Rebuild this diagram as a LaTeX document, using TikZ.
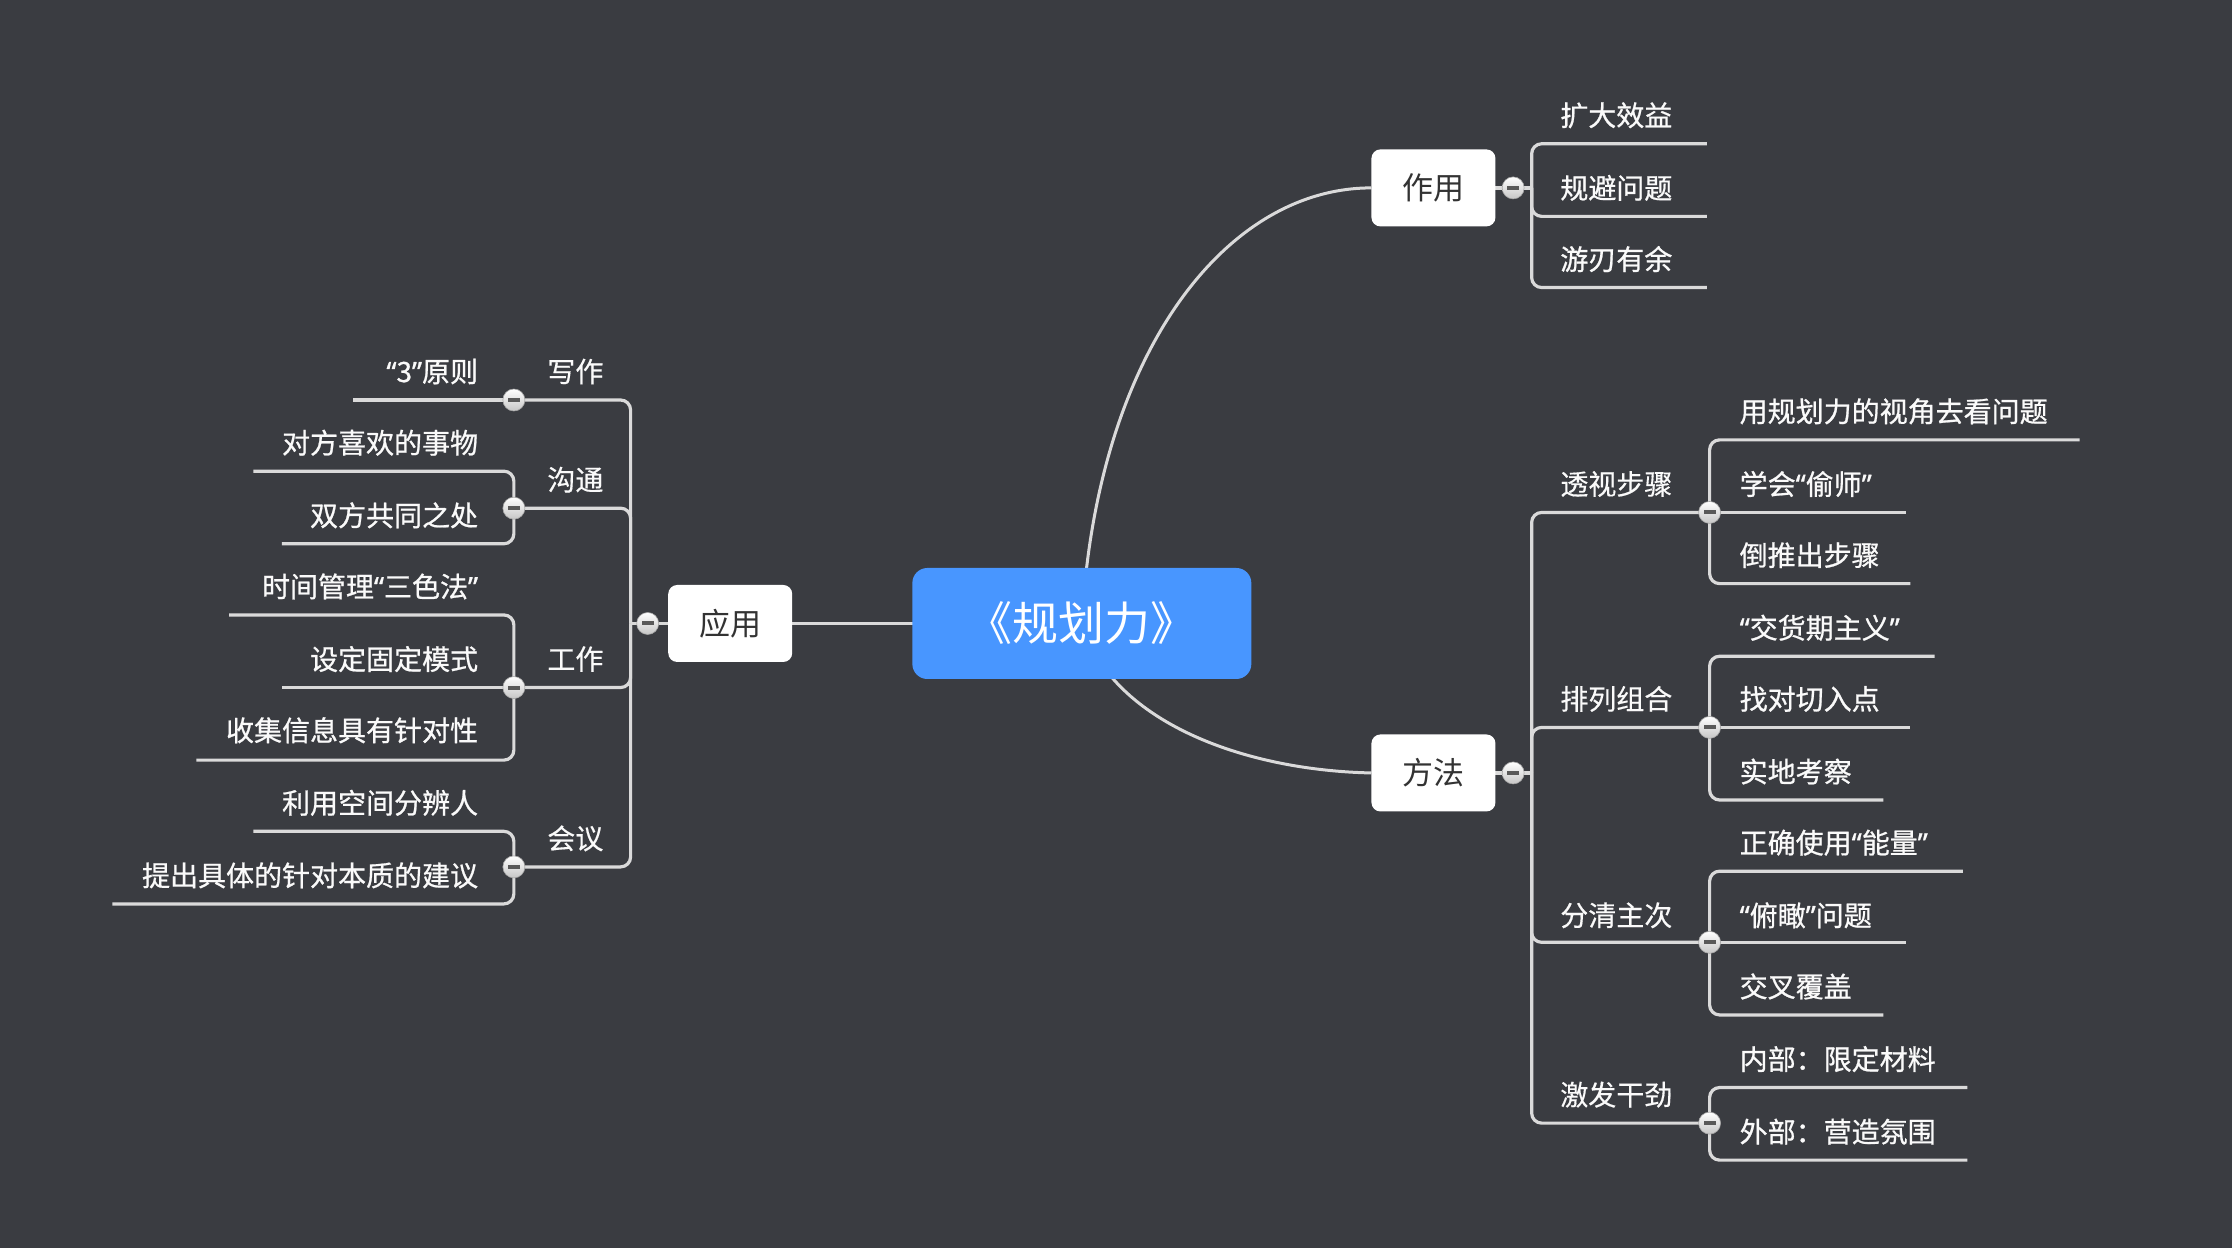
\documentclass[tikz,border=0pt]{standalone}
\usepackage{fontspec}
\newfontfamily\cjk{Noto Sans CJK SC}
\newfontfamily\cjkb[FakeBold=0.8]{Noto Sans CJK SC}
\newfontfamily\cjkm[FakeBold=0.4]{Noto Sans CJK SC}
\newfontfamily\latq[FakeBold=0.8]{Noto Sans}
\newcommand\myqo{{\latq “}}
\newcommand\myqc{{\latq ”}}
\definecolor{bgc}{RGB}{58,60,65}
\definecolor{linec}{RGB}{218,218,218}
\definecolor{rootc}{RGB}{72,150,255}
\definecolor{boxtext}{RGB}{51,51,51}
\definecolor{leafc}{RGB}{250,250,250}
\pgfdeclarelayer{bgl}
\pgfdeclarelayer{lnl}
\pgfsetlayers{bgl,lnl,main}
\begin{document}
\begin{tikzpicture}[x=1.4235pt,y=-1.4235pt,
 link/.style={draw=linec, line width=3.2pt, rounded corners=10pt},
 curve/.style={draw=linec, line width=3pt},
 rootbox/.style={fill=rootc, rounded corners=15pt, minimum width=339pt, minimum height=111pt, text=white, font=\cjk\fontsize{46}{50}\selectfont},
 topic/.style={fill=white, rounded corners=9pt, minimum width=124pt, minimum height=77pt, text=boxtext, font=\cjk\fontsize{31}{34}\selectfont},
 sub/.style={text=leafc, inner sep=0pt, font=\cjkb\fontsize{28}{30}\selectfont},
 mid/.style={text=leafc, inner sep=0pt, font=\cjkm\fontsize{28}{30}\selectfont},
 toggle/.style={circle, minimum size=22pt, inner sep=0pt, top color=white, bottom color=gray!45, draw=gray!70, line width=0.6pt,
   path picture={\fill[black!65] ([xshift=-6pt,yshift=-2pt]path picture bounding box.center) rectangle ([xshift=6pt,yshift=2pt]path picture bounding box.center);}}
]
\begin{pgfonlayer}{bgl}
\fill[bgc] (0,0) rectangle (1568,877);
\end{pgfonlayer}
\useasboundingbox (0,0) rectangle (1568,877);

% ---------- main nodes ----------
\node[rootbox] (root) at (760,438) {《规划力》};
\node[topic] (zy) at (1007,132) {作用};
\node[topic] (ff) at (1007,543) {方法};
\node[topic] (yy) at (513,438) {应用};

\coordinate (jzy) at (1076,132);
\coordinate (jff) at (1076,543);
\coordinate (jyy) at (443,438);

% ---------- 作用 leaves ----------
\node[sub, anchor=west] (a1) at (1096,81) {扩大效益};
\node[sub, anchor=west] (a2) at (1096,132) {规避问题};
\node[sub, anchor=west] (a3) at (1096,182) {游刃有余};
\coordinate (ea1) at (1199,101);
\coordinate (ea2) at (1199,152);
\coordinate (ea3) at (1199,202);

% ---------- 方法 level 2 ----------
\node[mid, anchor=west] (b1) at (1096,340) {透视步骤};
\node[mid, anchor=west] (b2) at (1096,491) {排列组合};
\node[mid, anchor=west] (b3) at (1096,643) {分清主次};
\node[mid, anchor=west] (b4) at (1096,769) {激发干劲};

% leaves
\node[sub, anchor=west] (b11) at (1222,289) {用规划力的视角去看问题};
\node[sub, anchor=west] (b12) at (1222,340) {学会\myqo 偷师\myqc};
\node[sub, anchor=west] (b13) at (1222,390) {倒推出步骤};
\coordinate (eb11) at (1461,309);
\coordinate (eb12) at (1339,360);
\coordinate (eb13) at (1342,410);

\node[sub, anchor=west] (b21) at (1222,441) {\myqo 交货期主义\myqc};
\node[sub, anchor=west] (b22) at (1222,491) {找对切入点};
\node[sub, anchor=west] (b23) at (1222,542) {实地考察};
\coordinate (eb21) at (1359,461);
\coordinate (eb22) at (1342,511);
\coordinate (eb23) at (1323,562);

\node[sub, anchor=west] (b31) at (1222,592) {正确使用\myqo 能量\myqc};
\node[sub, anchor=west] (b32) at (1222,643) {\myqo 俯瞰\myqc 问题};
\node[sub, anchor=west] (b33) at (1222,693) {交叉覆盖};
\coordinate (eb31) at (1379,612);
\coordinate (eb32) at (1339,662);
\coordinate (eb33) at (1323,713);

\node[sub, anchor=west] (b41) at (1222,744) {内部：限定材料};
\node[sub, anchor=west] (b42) at (1222,795) {外部：营造氛围};
\coordinate (eb41) at (1382,764);
\coordinate (eb42) at (1382,815);

% ---------- 应用 level 2 ----------
\node[mid, anchor=east] (c1) at (424,261) {写作};
\node[mid, anchor=east] (c2) at (424,337) {沟通};
\node[mid, anchor=east] (c3) at (424,463) {工作};
\node[mid, anchor=east] (c4) at (424,589) {会议};

\node[sub, anchor=east] (c11) at (336,261) {\myqo 3\myqc 原则};
\coordinate (ec11) at (248,281);

\node[sub, anchor=east] (c21) at (336,311) {对方喜欢的事物};
\node[sub, anchor=east] (c22) at (336,362) {双方共同之处};
\coordinate (ec21) at (178,331);
\coordinate (ec22) at (198,382);

\node[sub, anchor=east] (c31) at (336,412) {时间管理\myqo 三色法\myqc};
\node[sub, anchor=east] (c32) at (336,463) {设定固定模式};
\node[sub, anchor=east] (c33) at (336,513) {收集信息具有针对性};
\coordinate (ec31) at (161,432);
\coordinate (ec32) at (198,483);
\coordinate (ec33) at (138,534);

\node[sub, anchor=east] (c41) at (336,564) {利用空间分辨人};
\node[sub, anchor=east] (c42) at (336,615) {提出具体的针对本质的建议};
\coordinate (ec41) at (178,584);
\coordinate (ec42) at (79,635);

% ---------- toggles ----------
\node[toggle] (tzy) at (1063,132) {};
\node[toggle] (tff) at (1063,543) {};
\node[toggle] (tyy) at (455,438) {};
\node[toggle] (tb1) at (1201,360) {};
\node[toggle] (tb2) at (1201,511) {};
\node[toggle] (tb3) at (1201,662) {};
\node[toggle] (tb4) at (1201,789) {};
\node[toggle] (tc1) at (361,281) {};
\node[toggle] (tc2) at (361,357) {};
\node[toggle] (tc3) at (361,483) {};
\node[toggle] (tc4) at (361,609) {};

% ---------- connectors ----------
\begin{pgfonlayer}{lnl}
\draw[curve] (root.center) .. controls (770,250) and (860,132) .. (zy.west);
\draw[curve] (root.center) .. controls (780,505) and (870,541) .. (ff.west);
\draw[link] (root.center) -- (yy.center);

\draw[link] (zy.center) -- (jzy);
\draw[link] (ff.center) -- (jff);
\draw[link] (yy.center) -- (jyy);

% 作用
\draw[link] (jzy) |- (ea1);
\draw[link] (jzy) |- (ea2);
\draw[link] (jzy) |- (ea3);

% 方法
\draw[link] (jff) |- (tb1.center);
\draw[link] (jff) |- (tb2.center);
\draw[link] (jff) |- (tb3.center);
\draw[link] (jff) |- (tb4.center);

\draw[link] (tb1.center) |- (eb11);
\draw[link] (tb1.center) -- (eb12);
\draw[link] (tb1.center) |- (eb13);
\draw[link] (tb2.center) |- (eb21);
\draw[link] (tb2.center) -- (eb22);
\draw[link] (tb2.center) |- (eb23);
\draw[link] (tb3.center) |- (eb31);
\draw[link] (tb3.center) -- (eb32);
\draw[link] (tb3.center) |- (eb33);
\draw[link] (tb4.center) |- (eb41);
\draw[link] (tb4.center) |- (eb42);

% 应用
\draw[link] (jyy) |- (tc1.center);
\draw[link] (jyy) |- (tc2.center);
\draw[link] (jyy) |- (tc3.center);
\draw[link] (jyy) |- (tc4.center);

\draw[link] (tc1.center) -- (ec11);
\draw[link] (tc2.center) |- (ec21);
\draw[link] (tc2.center) |- (ec22);
\draw[link] (tc3.center) |- (ec31);
\draw[link] (tc3.center) -- (ec32);
\draw[link] (tc3.center) |- (ec33);
\draw[link] (tc4.center) |- (ec41);
\draw[link] (tc4.center) |- (ec42);
\end{pgfonlayer}
\end{tikzpicture}
\end{document}
